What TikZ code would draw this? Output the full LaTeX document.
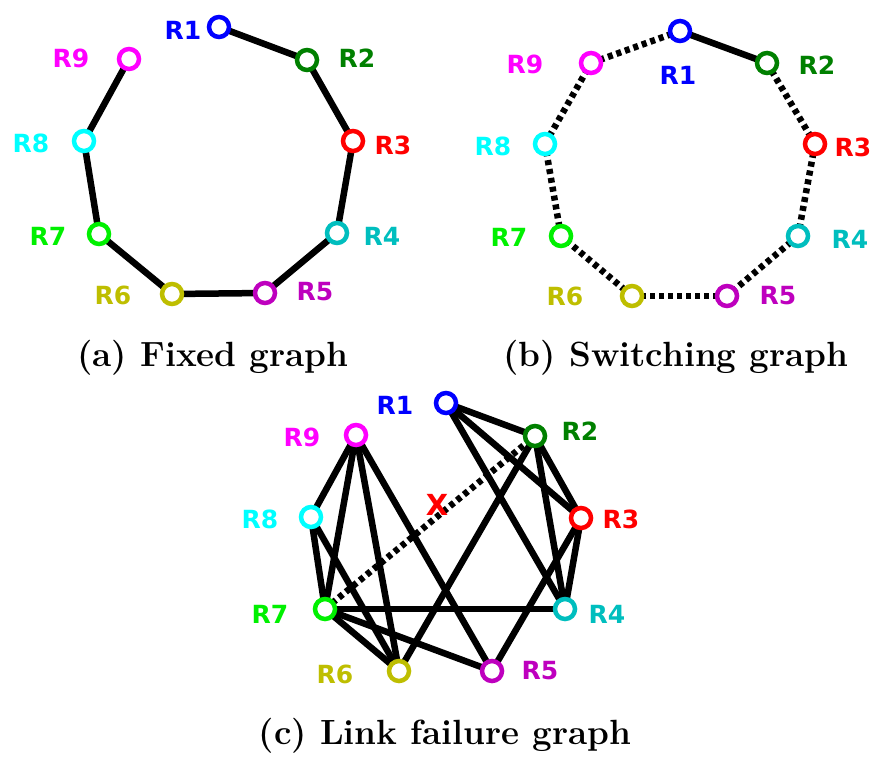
\documentclass[tikz,border=0pt]{standalone}
\usepackage{fontspec}
\newfontfamily\lab{DejaVu Sans}
\begin{document}
\begin{tikzpicture}[x=1pt,y=-1pt,
 rn/.style={circle,draw=#1,line width=4.5pt,minimum size=20pt,inner sep=0pt,fill=white},
 lb/.style={text=#1,font=\lab\bfseries\fontsize{25}{25}\selectfont,inner sep=0pt},
 ed/.style={line width=6.5pt,black},
 dt/.style={line width=6.5pt,black,dash pattern=on 5pt off 4pt},
 captxt/.style={font=\bfseries\fontsize{35}{35}\selectfont,inner sep=0pt}]
\useasboundingbox (0,0) rectangle (890,767);
\definecolor{c1}{RGB}{0,0,255}\definecolor{c2}{RGB}{0,128,0}\definecolor{c3}{RGB}{255,0,0}
\definecolor{c4}{RGB}{0,190,190}\definecolor{c5}{RGB}{190,0,190}\definecolor{c6}{RGB}{190,190,0}
\definecolor{c7}{RGB}{0,240,0}\definecolor{c8}{RGB}{0,255,255}\definecolor{c9}{RGB}{255,0,255}
% (a)
\foreach \n/\x/\y in {1/219/27,2/307/60,3/353/141,4/337/233,5/265/293,6/172/294,7/99/234,8/84/141,9/129/59}
  \coordinate (a\n) at (\x,\y);
\foreach \a/\b in {1/2,2/3,3/4,4/5,5/6,6/7,7/8,8/9} \draw[ed] (a\a)--(a\b);
\foreach \n in {1,...,9} \node[rn=c\n] (A\n) at (a\n) {};
\foreach \n/\x/\y in {1/183/30,2/357/58,3/393/145,4/382/236,5/315/292,6/113/295,7/48/236,8/31/143,9/71/58}
  \node[lb=c\n] (LA\n) at (\x,\y) {R\n};
\node[captxt] (capa) at (213,358) {(a) Fixed graph};
% (b)
\foreach \n/\x/\y in {1/680/31,2/767/63,3/815/144,4/798/236,5/727/296,6/632/296,7/561/236,8/545/144,9/591/63}
  \coordinate (b\n) at (\x,\y);
\draw[ed] (b1)--(b2);
\foreach \a/\b in {9/1,2/3,3/4,4/5,5/6,6/7,7/8,8/9} \draw[dt] (b\a)--(b\b);
\foreach \n in {1,...,9} \node[rn=c\n] (B\n) at (b\n) {};
\foreach \n/\x/\y in {1/678/75,2/817/65,3/853/147,4/850/239,5/778/296,6/565/296,7/509/237,8/493/146,9/525/64}
  \node[lb=c\n] (LB\n) at (\x,\y) {R\n};
\node[captxt] (capb) at (676,358) {(b) Switching graph};
% (c)
\foreach \n/\x/\y in {1/446/403,2/535/436,3/581/518,4/565/609,5/492/671,6/399/671,7/325/609,8/311/517,9/356/435}
  \coordinate (c\n) at (\x,\y);
\foreach \a/\b in {9/8,9/7,9/6,9/5,8/7,8/6,7/6,7/5,7/4,1/2,1/3,1/4,2/3,2/4,2/6,3/4,3/5} \draw[ed] (c\a)--(c\b);
\draw[dt] (c7)--(c2);
\node[text=red,font=\lab\bfseries\fontsize{29}{29}\selectfont,inner sep=0pt] (X) at (437,505) {X};
\foreach \n in {1,...,9} \node[rn=c\n] (C\n) at (c\n) {};
\foreach \n/\x/\y in {1/395/405,2/580/431,3/621/519,4/607/614,5/540/671,6/335/674,7/270/614,8/260/519,9/302/437}
  \node[lb=c\n] (LC\n) at (\x,\y) {R\n};
\node[captxt] (capc) at (445,736) {(c) Link failure graph};
\end{tikzpicture}
\end{document}
